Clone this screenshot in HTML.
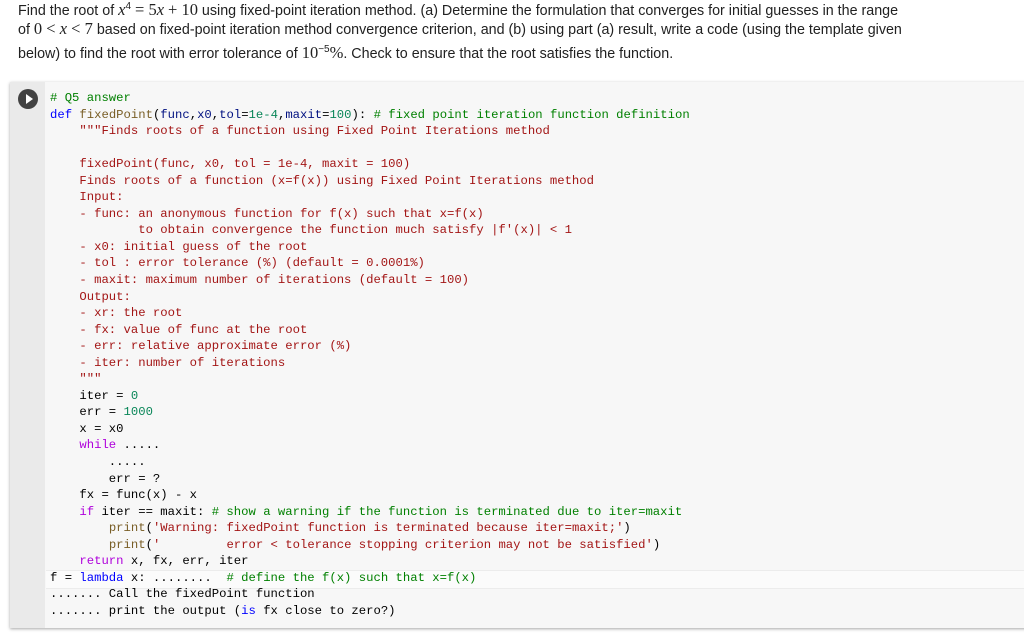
<!DOCTYPE html>
<html><head><meta charset="utf-8"><style>
body{margin:0;width:1024px;height:640px;background:#fff;overflow:hidden;position:relative;font-family:"Liberation Sans",sans-serif}
.q{position:absolute;left:18px;font-size:14.3px;color:#212121;white-space:nowrap;line-height:20px}
.m{font-family:"Liberation Serif",serif;font-size:16.5px;font-style:italic}
.n{font-family:"Liberation Serif",serif;font-size:16.5px}
#cell{position:absolute;left:10px;top:82px;width:1030px;height:546px;background:#f7f7f7;box-shadow:0 1px 3px rgba(0,0,0,.35)}
#gut{position:absolute;left:10px;top:82px;width:35px;height:546px;background:#eaeaea}
#play{position:absolute;left:18px;top:89px;width:20px;height:20px;border-radius:50%;background:#424242}
#play:after{content:"";position:absolute;left:8px;top:5px;border-left:7px solid #fff;border-top:5px solid transparent;border-bottom:5px solid transparent}
#hl{position:absolute;left:46px;top:570px;width:980px;height:17px;background:#fbfbfb;border-top:1px solid #ececec;border-bottom:1px solid #ececec}
pre{position:absolute;left:50px;top:90px;margin:0;font-family:"Liberation Mono",monospace;font-size:12.25px;line-height:16.55px;color:#000}
.c{color:#008000}.k{color:#0000ff}.s{color:#a31515}.f{color:#795e26}.p{color:#af00db}.d{color:#098658}.v{color:#001080}
</style></head><body>
<div class="q" style="top:-3px">Find the root of <span class="m">x</span><sup style="font-size:10px">4</sup> <span class="n">= 5</span><span class="m">x</span> <span class="n">+ 10</span> using fixed-point iteration method. (a) Determine the formulation that converges for initial guesses in the range</div>
<div class="q" style="top:19px">of <span class="n">0 &lt; </span><span class="m">x</span><span class="n"> &lt; 7</span> based on fixed-point iteration method convergence criterion, and (b) using part (a) result, write a code (using the template given</div>
<div class="q" style="top:40px">below) to find the root with error tolerance of <span class="n">10</span><sup style="font-size:10px">−5</sup><span class="n">%</span>. Check to ensure that the root satisfies the function.</div>
<div id="cell"></div><div id="gut"></div><div id="play"></div><div id="hl"></div>
<pre><span class="c"># Q5 answer</span>
<span class="k">def</span> <span class="f">fixedPoint</span>(<span class="v">func</span>,<span class="v">x0</span>,<span class="v">tol</span>=<span class="d">1e-4</span>,<span class="v">maxit</span>=<span class="d">100</span>): <span class="c"># fixed point iteration function definition</span>
    <span class="s">"""Finds roots of a function using Fixed Point Iterations method

    fixedPoint(func, x0, tol = 1e-4, maxit = 100)
    Finds roots of a function (x=f(x)) using Fixed Point Iterations method
    Input:
    - func: an anonymous function for f(x) such that x=f(x)
            to obtain convergence the function much satisfy |f'(x)| &lt; 1
    - x0: initial guess of the root
    - tol : error tolerance (%) (default = 0.0001%)
    - maxit: maximum number of iterations (default = 100)
    Output:
    - xr: the root
    - fx: value of func at the root
    - err: relative approximate error (%)
    - iter: number of iterations
    """</span>
    iter = <span class="d">0</span>
    err = <span class="d">1000</span>
    x = x0
    <span class="p">while</span> .....
        .....
        err = ?
    fx = func(x) - x
    <span class="p">if</span> iter == maxit: <span class="c"># show a warning if the function is terminated due to iter=maxit</span>
        <span class="f">print</span>(<span class="s">'Warning: fixedPoint function is terminated because iter=maxit;'</span>)
        <span class="f">print</span>(<span class="s">'         error &lt; tolerance stopping criterion may not be satisfied'</span>)
    <span class="p">return</span> x, fx, err, iter
f = <span class="k">lambda</span> x: ........  <span class="c"># define the f(x) such that x=f(x)</span>
....... Call the fixedPoint function
....... print the output (<span class="k">is</span> fx close to zero?)</pre>
</body></html>
